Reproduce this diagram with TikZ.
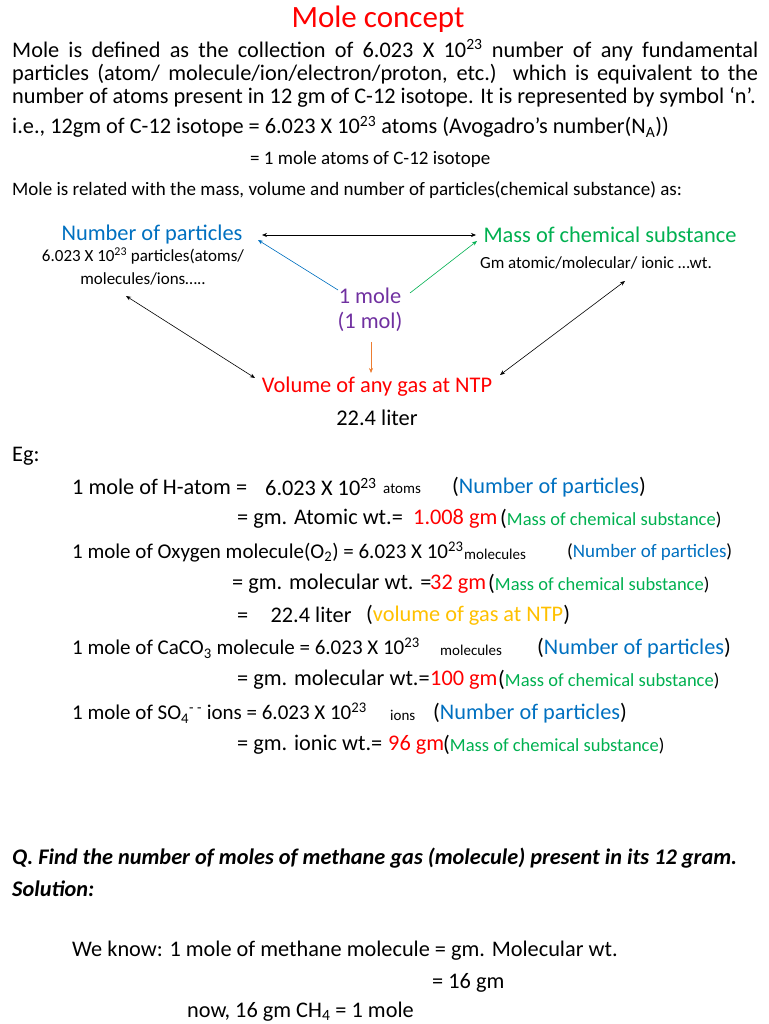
\documentclass[tikz,border=0pt]{standalone}
\usepackage{fontspec}
\setmainfont{Carlito}
\usetikzlibrary{arrows.meta}
\definecolor{cblue}{HTML}{0070C0}
\definecolor{cgreen}{HTML}{00B050}
\definecolor{cred}{HTML}{FF0000}
\definecolor{cpurp}{HTML}{7030A0}
\definecolor{corange}{HTML}{ED7D31}
\definecolor{cyel}{HTML}{FFC000}
\newcommand{\sx}[1]{\textsuperscript{#1}}
\newcommand{\msmall}{\fontsize{18.5}{21}\selectfont}
\begin{document}
\begin{tikzpicture}[x=1pt,y=-1pt,
  every node/.style={inner sep=0pt},
  tx/.style={anchor=west,font=\fontsize{22.3}{26}\selectfont},
  tn/.style={anchor=west,font=\fontsize{21}{25}\selectfont},
  sm/.style={anchor=west,font=\fontsize{19}{22}\selectfont},
  xs/.style={anchor=west,font=\fontsize{15}{17}\selectfont},
  ct/.style={font=\fontsize{22.4}{26}\selectfont},
  cs/.style={font=\fontsize{17}{20}\selectfont},
  arr/.style={-{Stealth[length=5pt,width=4pt]},line width=0.6pt},
  darr/.style={{Stealth[length=5pt,width=4pt]}-{Stealth[length=5pt,width=4pt]},line width=0.6pt}]
\useasboundingbox (0,0) rectangle (768,1024);
\node[font=\fontsize{31}{34}\selectfont,text=cred] (title) at (378,19) {Mole concept};
\node[tx] (l1) at (12,50) {\makebox[746pt][s]{Mole is defined as the collection of 6.023 X 10\sx{23} number of any fundamental}};
\node[tx] (l2) at (12,74) {\makebox[746pt][s]{particles (atom/ molecule/ion/electron/proton, etc.) which is equivalent to the}};
\node[tx] (l3) at (12,97) {number of atoms present in 12 gm of C-12 isotope. It is represented by symbol ‘n’.};
\node[tx] (l4) at (12,127) {i.e., 12gm of C-12 isotope = 6.023 X 10\sx{23} atoms (Avogadro’s number(N\textsubscript{A}))};
\node[sm] (l5) at (250,159) {= 1 mole atoms of C-12 isotope};
\node[sm] (l6) at (12,190) {Mole is related with the mass, volume and number of particles(chemical substance) as:};
% diagram
\node[ct,text=cblue] (np) at (152,235) {Number of particles};
\node[cs] (np2) at (143,256) {6.023 X 10\sx{23} particles(atoms/};
\node[cs] (np3) at (143,279) {molecules/ions…..};
\node[ct,text=cgreen] (mc) at (610,235) {Mass of chemical substance};
\node[cs] (mc2) at (596,263) {Gm atomic/molecular/ ionic …wt.};
\node[ct,text=cpurp] (mo) at (370,296) {1 mole};
\node[ct,text=cpurp] (mo2) at (370,322) {(1 mol)};
\node[ct,text=cred] (vg) at (377,387) {Volume of any gas at NTP};
\node[ct] (vg2) at (377,418) {22.4 liter};
\coordinate (a1) at (262,235); \coordinate (a2) at (476,235);
\draw[darr] (a1) -- (a2);
\coordinate (b1) at (338,290); \coordinate (b2) at (258,240);
\draw[arr,cblue] (b1) -- (b2);
\coordinate (c1) at (410,293); \coordinate (c2) at (477,241);
\draw[arr,cgreen] (c1) -- (c2);
\coordinate (d1) at (371,342); \coordinate (d2) at (371,373);
\draw[arr,corange] (d1) -- (d2);
\coordinate (e1) at (126,296); \coordinate (e2) at (255,378);
\draw[darr] (e1) -- (e2);
\coordinate (f1) at (625,281); \coordinate (f2) at (500,375);
\draw[darr] (f1) -- (f2);
% examples
\node[tx] (eg) at (12,456) {Eg:};
\node[tx] (h1) at (72,487) {1 mole of H-atom =};
\node[tx] (h2) at (265,487) {6.023 X 10\sx{23}};
\node[xs] (h3) at (383,489) {atoms};
\node[tx] (h4) at (452,487) {(\textcolor{cblue}{Number of particles})};
\node[tx] (h5) at (237,519) {= gm. Atomic wt.=};
\node[tx,text=cred] (h6) at (413,519) {1.008 gm};
\node[tx] (h7) at (500,519) {(\msmall\textcolor{cgreen}{Mass of chemical substance})};
\node[tn] (o1) at (72,552) {1 mole of Oxygen molecule(O\textsubscript{2}) = 6.023 X 10\sx{23}};
\node[xs] (o2) at (464,554) {molecules};
\node[sm] (o3) at (567,552) {(\textcolor{cblue}{Number of particles})};
\node[tx] (o4) at (232,584) {= gm. molecular wt. =};
\node[tx,text=cred] (o5) at (430,584) {32 gm};
\node[tx] (o6) at (488,584) {(\msmall\textcolor{cgreen}{Mass of chemical substance})};
\node[tx] (o7) at (237,615) {=\quad 22.4 liter};
\node[tx] (o8) at (366,615) {(\textcolor{cyel}{volume of gas at NTP})};
\node[tn] (c1n) at (72,648) {1 mole of CaCO\textsubscript{3} molecule = 6.023 X 10\sx{23}};
\node[xs] (c2n) at (440,650) {molecules};
\node[tx] (c3n) at (537,648) {(\textcolor{cblue}{Number of particles})};
\node[tx] (c4n) at (237,680) {= gm. molecular wt.=};
\node[tx,text=cred] (c5n) at (430,680) {100 gm};
\node[tx] (c6n) at (498,680) {(\msmall\textcolor{cgreen}{Mass of chemical substance})};
\node[tn] (s1) at (72,713) {1 mole of SO\textsubscript{4}\sx{- -} ions = 6.023 X 10\sx{23}};
\node[xs] (s2) at (390,715) {ions};
\node[tx] (s3) at (433,713) {(\textcolor{cblue}{Number of particles})};
\node[tx] (s4) at (237,745) {= gm. ionic wt.=};
\node[tx,text=cred] (s5) at (388,745) {96 gm};
\node[tx] (s6) at (443,745) {(\msmall\textcolor{cgreen}{Mass of chemical substance})};
% question
\node[tx,font=\fontsize{22.3}{26}\selectfont\bfseries\itshape] (q) at (12,858) {Q. Find the number of moles of methane gas (molecule) present in its 12 gram.};
\node[tx,font=\fontsize{22.3}{26}\selectfont\bfseries\itshape] (sol) at (12,889) {Solution:};
\node[tx] (w1) at (72,951) {We know: 1 mole of methane molecule = gm. Molecular wt.};
\node[tx] (w2) at (432,983) {= 16 gm};
\node[tx] (w3) at (187,1012) {now, 16 gm CH\textsubscript{4} = 1 mole};
\end{tikzpicture}
\end{document}
